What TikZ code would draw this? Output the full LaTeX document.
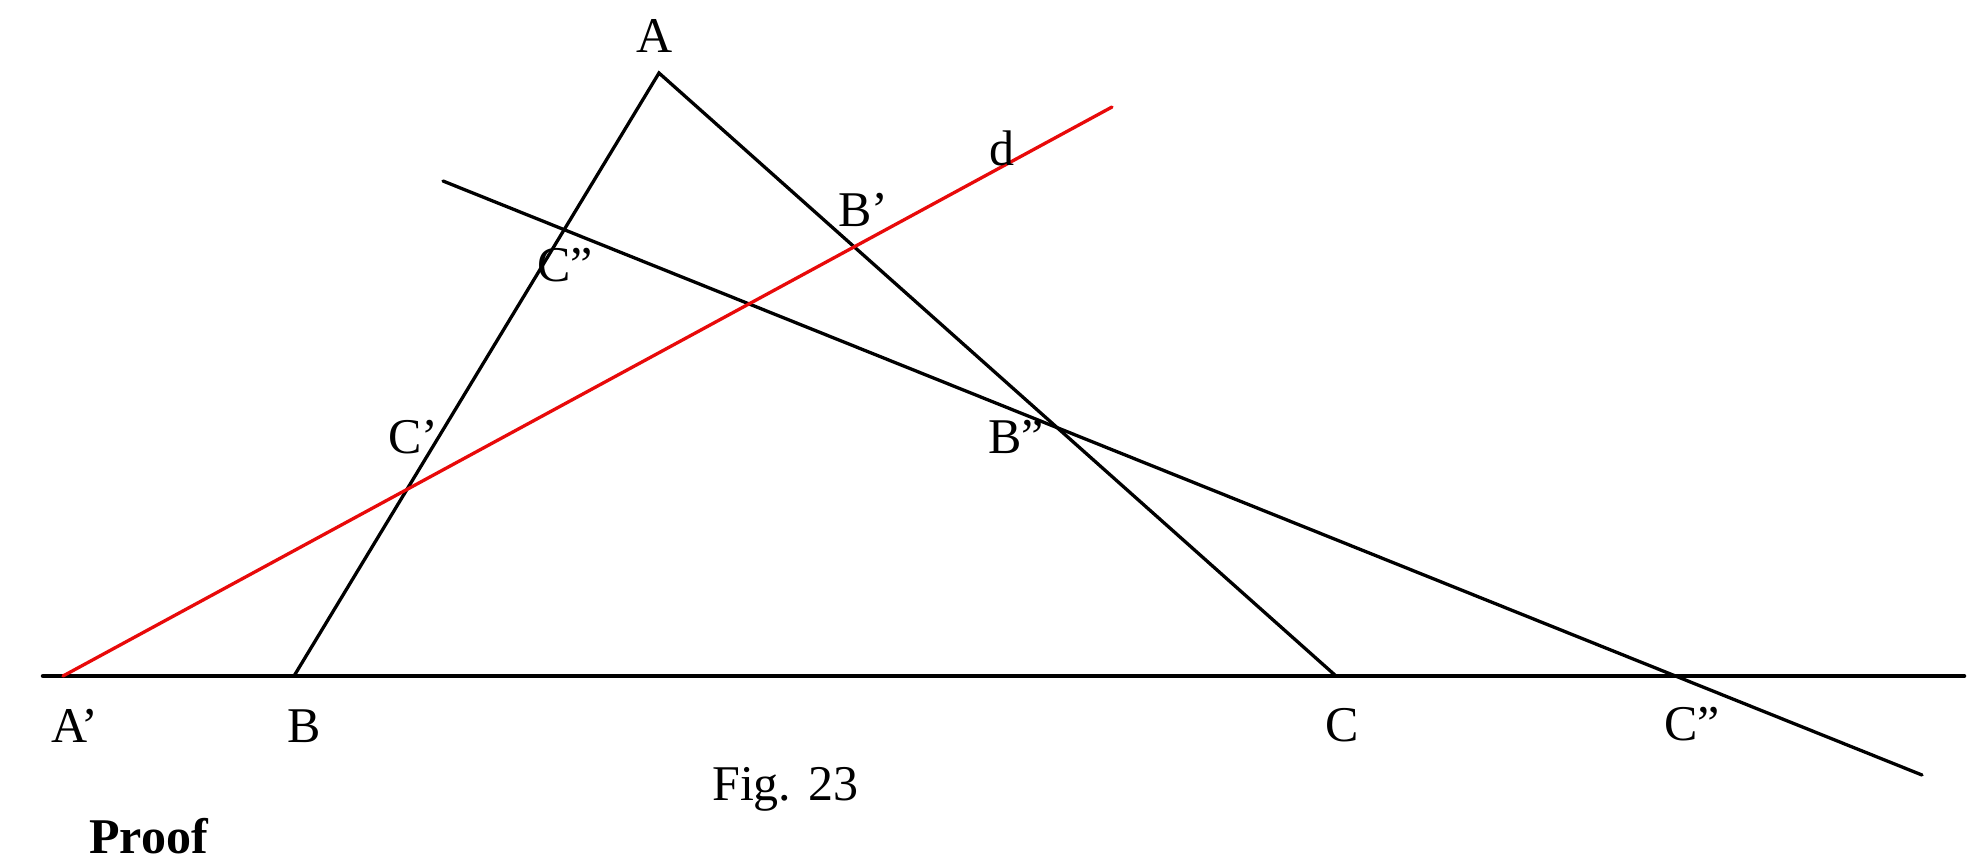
\documentclass[tikz,border=0pt]{standalone}
\usepackage{fontspec}
\setmainfont{Liberation Serif}
\definecolor{dred}{RGB}{232,10,10}
\begin{document}
\begin{tikzpicture}[x=1pt,y=-1pt,
  lbl/.style={anchor=base west,inner sep=0pt,font=\fontsize{50}{60}\selectfont},
  thin line/.style={line width=3.3pt,line cap=round,black},
  base line/.style={line width=4.5pt,line cap=round,black},
  red line/.style={line width=3.3pt,line cap=round,dred}]
\useasboundingbox (0,0) rectangle (1970,860);
% points
\coordinate (A) at (659,73);
\coordinate (B) at (294,676);
\coordinate (C) at (1336,676);
\coordinate (L) at (43,676);
\coordinate (R) at (1964,676);
\coordinate (Ap) at (63,676);
\coordinate (dE) at (1112,107);
\coordinate (kS) at (443,181);
\coordinate (kE) at (1922,775);
% lines
\draw[base line] (L) -- (R);
\draw[thin line] (B) -- (A) -- (C);
\draw[thin line] (kS) -- (kE);
\draw[red line] (Ap) -- (dE);
% labels
\node[lbl] (lA) at (636,52) {A};
\node[lbl] (lAp) at (51,742) {A’};
\node[lbl] (lB) at (287,742) {B};
\node[lbl] (lC) at (1325,741) {C};
\node[lbl] (lC2b) at (1664,740) {C”};
\node[lbl] (lC2a) at (537,281) {C”};
\node[lbl] (ld) at (989,165) {d};
\node[lbl] (lBp) at (838,226) {B’};
\node[lbl] (lCp) at (388,453) {C’};
\node[lbl] (lB2) at (988,453) {B”};
\node[lbl] (lfig) at (712,800) {Fig. 23};
\node[lbl,font=\fontsize{50}{60}\selectfont\bfseries] (lproof) at (89,853) {Proof};
\end{tikzpicture}
\end{document}
